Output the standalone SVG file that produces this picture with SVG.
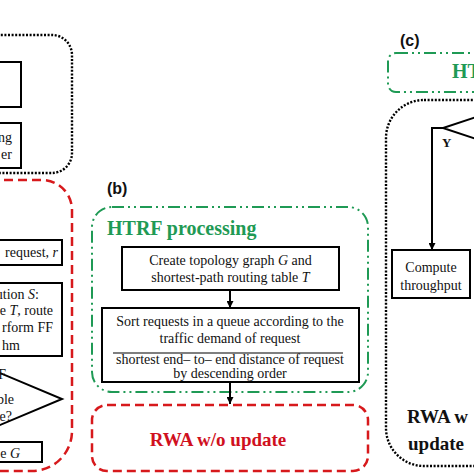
<svg xmlns="http://www.w3.org/2000/svg" width="474" height="474" viewBox="0 0 474 474">
<defs>
<style>
.box{fill:#fff;stroke:#000;stroke-width:2}
.dot{fill:none;stroke:#000;stroke-width:2.4;stroke-dasharray:2 1.6}
.red{fill:none;stroke:#d7191c;stroke-width:2.5;stroke-dasharray:9 5}
.grn{fill:none;stroke:#1f9a55;stroke-width:2;stroke-dasharray:12 4 2 4 2 4}
.t{font-family:"Liberation Serif","Times New Roman",serif;font-size:14px;fill:#111}
.lab{font-family:"Liberation Sans",Arial,sans-serif;font-size:16px;font-weight:bold;fill:#111}
.gt{font-family:"Liberation Serif","Times New Roman",serif;font-size:20px;font-weight:bold;fill:#1f9a55}
.rt{font-family:"Liberation Serif","Times New Roman",serif;font-size:19px;font-weight:bold;fill:#d0101e}
.bt{font-family:"Liberation Serif","Times New Roman",serif;font-size:19px;font-weight:bold;fill:#111}
.ln{fill:none;stroke:#000;stroke-width:2}
</style>
<marker id="ah" viewBox="0 0 10 10" refX="10" refY="5" markerWidth="7" markerHeight="7" markerUnits="userSpaceOnUse" orient="auto">
<path d="M0,0 L10,5 L0,10 Z" fill="#000"/>
</marker>
</defs>
<rect width="474" height="474" fill="#fff"/>

<!-- panel (a) fragments -->
<g id="a-top-group">
<rect class="dot" x="-30" y="35" width="102" height="138" rx="20"/>
</g>
<g id="a-box1"><rect class="box" x="-10" y="62" width="31" height="45"/></g>
<g id="a-box2">
<rect class="box" x="-10" y="123" width="31" height="45"/>
<text class="t" x="12" y="142" text-anchor="end">ng</text>
<text class="t" x="12" y="159" text-anchor="end">er</text>
</g>
<g id="a-rwa-group">
<path class="red" d="M-10,180 H42 A30,30 0 0 1 72,210 V431 A40,40 0 0 1 32,471 H-10"/>
</g>
<g id="a-request">
<rect class="box" x="-10" y="240" width="72" height="25"/>
<text class="t" x="58" y="257" text-anchor="end">request, <tspan font-style="italic">r</tspan></text>
</g>
<g id="a-solution">
<rect class="box" x="-10" y="283" width="72" height="73"/>
<text class="t" x="39" y="299" text-anchor="end">ution <tspan font-style="italic">S</tspan>:</text>
<text class="t" x="53" y="315" text-anchor="end">e <tspan font-style="italic">T</tspan>, route</text>
<text class="t" x="53" y="332" text-anchor="end">rform FF</text>
<text class="t" x="20" y="350" text-anchor="end">hm</text>
</g>
<g id="a-decision">
<polyline class="ln" points="-20,364.6 62,399 -20,433.4"/>
<text class="t" x="6" y="379" text-anchor="end">F</text>
<text class="t" x="14" y="404" text-anchor="end">ble</text>
<text class="t" x="12" y="421" text-anchor="end">e?</text>
</g>
<g id="a-update">
<rect class="box" x="-10" y="442" width="52" height="20"/>
<text class="t" x="20" y="458" text-anchor="end">e <tspan font-style="italic">G</tspan></text>
</g>

<!-- panel (b) -->
<text class="lab" x="107" y="194">(b)</text>
<g id="b-htrf">
<rect class="grn" x="92" y="207" width="276" height="185" rx="20"/>
<text class="gt" x="107" y="235">HTRF processing</text>
</g>
<g id="b-create">
<rect class="box" x="122" y="247" width="217" height="43"/>
<text class="t" x="230.5" y="265" text-anchor="middle">Create topology graph <tspan font-style="italic">G</tspan> and</text>
<text class="t" x="230.5" y="282" text-anchor="middle">shortest-path routing table <tspan font-style="italic">T</tspan></text>
</g>
<g id="b-sort">
<rect class="box" x="102" y="308" width="257" height="74"/>
<text class="t" x="230" y="326" text-anchor="middle">Sort requests in a queue according to the</text>
<text class="t" x="230" y="343" text-anchor="middle">traffic demand of request</text>
<line x1="113" y1="353" x2="343" y2="353" stroke="#555" stroke-width="1.3"/>
<text class="t" x="230" y="364" text-anchor="middle">shortest end– to– end distance of request</text>
<text class="t" x="230" y="378" text-anchor="middle">by descending order</text>
</g>
<g id="b-rwa">
<rect class="red" x="92" y="405" width="276" height="66" rx="15"/>
<text class="rt" x="218" y="446" text-anchor="middle">RWA w/o update</text>
</g>

<!-- panel (c) -->
<text class="lab" x="400" y="46">(c)</text>
<g id="c-htrf">
<rect class="grn" x="388" y="53" width="120" height="39" rx="8"/>
<text class="gt" x="452" y="78">HT</text>
</g>
<g id="c-rwa-group">
<rect class="dot" x="386" y="100" width="140" height="366" rx="38"/>
<text class="bt" x="407" y="423">RWA w</text>
<text class="bt" x="408" y="450">update</text>
</g>
<g id="c-decision">
<polyline class="ln" points="480,115.7 443,128 480,140.3"/>
<text x="442" y="147" font-family="Liberation Serif,serif" font-size="13" font-weight="bold" fill="#111">Y</text>
</g>
<g id="c-compute">
<rect class="box" x="392" y="250" width="78" height="48"/>
<text class="t" x="431" y="272" text-anchor="middle">Compute</text>
<text class="t" x="431" y="290" text-anchor="middle">throughput</text>
</g>

<g id="connectors">
<line class="ln" x1="230" y1="290" x2="230" y2="308" marker-end="url(#ah)"/>
<line class="ln" x1="230" y1="382" x2="230" y2="404" marker-end="url(#ah)"/>
<polyline class="ln" points="443,128 432,128 432,250" marker-end="url(#ah)"/>
</g>
</svg>
